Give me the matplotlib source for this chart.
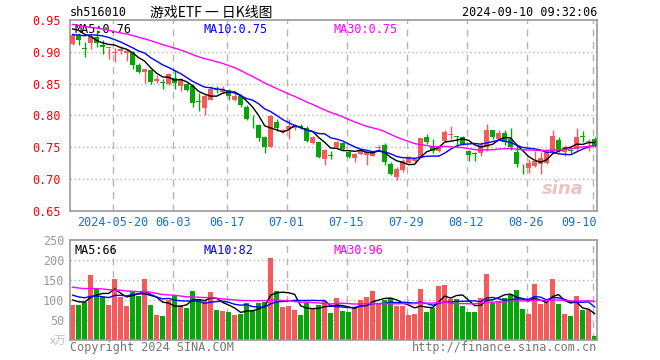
import numpy as np
import pandas as pd
import matplotlib
matplotlib.use("Agg")
import matplotlib.pyplot as plt

# trading days 2024-05-09 .. 2024-09-10 (06-10 holiday)
dates = [d for d in pd.bdate_range("2024-05-09", "2024-09-10") if d.strftime("%m-%d") != "06-10"]
date_str = [d.strftime("%Y-%m-%d") for d in dates]

opens = [0.913, 0.927, 0.906, 0.914, 0.924, 0.911, 0.906, 0.898, 0.902, 0.898,
         0.900, 0.879, 0.869, 0.871, 0.854, 0.852, 0.850, 0.859, 0.847, 0.850,
         0.846, 0.822, 0.811, 0.825, 0.841, 0.837, 0.840, 0.825, 0.830, 0.814,
         0.795, 0.785, 0.766, 0.750, 0.790, 0.7745, 0.7795, 0.7796, 0.783, 0.781,
         0.757, 0.758, 0.732, 0.7375, 0.750, 0.757, 0.743, 0.733, 0.7396, 0.7385,
         0.737, 0.7484, 0.7536, 0.724, 0.703, 0.714, 0.726, 0.728, 0.734, 0.766,
         0.751, 0.744, 0.760, 0.770, 0.767, 0.766, 0.744, 0.740, 0.741, 0.750,
         0.777, 0.763, 0.773, 0.763, 0.743, 0.721, 0.718, 0.720, 0.724, 0.725,
         0.742, 0.762, 0.743, 0.7445, 0.747, 0.767, 0.758, 0.763]
closes = [0.927, 0.918, 0.905, 0.925, 0.914, 0.908, 0.9065, 0.900, 0.905, 0.901,
          0.880, 0.868, 0.873, 0.853, 0.858, 0.851, 0.865, 0.851, 0.858, 0.840,
          0.819, 0.821, 0.830, 0.842, 0.840, 0.842, 0.830, 0.831, 0.816, 0.795,
          0.794, 0.764, 0.750, 0.799, 0.780, 0.777, 0.7828, 0.7838, 0.7825, 0.7604,
          0.7656, 0.7354, 0.7458, 0.737, 0.7588, 0.7474, 0.7354, 0.7396, 0.7458, 0.7432,
          0.7422, 0.751, 0.7275, 0.708, 0.716, 0.729, 0.733, 0.731, 0.764, 0.758,
          0.745, 0.750, 0.774, 0.771, 0.7665, 0.755, 0.738, 0.7395, 0.753, 0.777,
          0.766, 0.773, 0.758, 0.750, 0.724, 0.720, 0.726, 0.729, 0.734, 0.743,
          0.768, 0.745, 0.751, 0.744, 0.767, 0.766, 0.759, 0.752]
highs = [0.930, 0.930, 0.915, 0.927, 0.935, 0.918, 0.906, 0.906, 0.909, 0.904,
         0.901, 0.882, 0.873, 0.872, 0.863, 0.857, 0.867, 0.872, 0.859, 0.851,
         0.849, 0.835, 0.833, 0.847, 0.846, 0.846, 0.841, 0.833, 0.832, 0.816,
         0.800, 0.786, 0.768, 0.800, 0.794, 0.779, 0.794, 0.786, 0.786, 0.783,
         0.768, 0.760, 0.747, 0.745, 0.760, 0.758, 0.745, 0.741, 0.748, 0.745,
         0.744, 0.753, 0.757, 0.727, 0.719, 0.732, 0.736, 0.733, 0.765, 0.771,
         0.763, 0.754, 0.778, 0.783, 0.768, 0.768, 0.746, 0.742, 0.758, 0.787,
         0.777, 0.777, 0.778, 0.781, 0.754, 0.724, 0.732, 0.745, 0.742, 0.747,
         0.777, 0.766, 0.753, 0.747, 0.780, 0.775, 0.763, 0.766]
lows = [0.911, 0.911, 0.892, 0.905, 0.907, 0.897, 0.888, 0.884, 0.897, 0.886,
        0.873, 0.866, 0.851, 0.850, 0.851, 0.842, 0.848, 0.841, 0.839, 0.839,
        0.813, 0.807, 0.800, 0.824, 0.835, 0.835, 0.824, 0.823, 0.814, 0.793,
        0.781, 0.760, 0.741, 0.750, 0.776, 0.772, 0.763, 0.778, 0.7786, 0.758,
        0.755, 0.733, 0.722, 0.731, 0.748, 0.746, 0.734, 0.727, 0.738, 0.722,
        0.736, 0.746, 0.723, 0.707, 0.698, 0.712, 0.725, 0.726, 0.733, 0.756,
        0.741, 0.742, 0.758, 0.763, 0.751, 0.753, 0.729, 0.728, 0.736, 0.745,
        0.763, 0.761, 0.753, 0.746, 0.719, 0.708, 0.710, 0.719, 0.708, 0.724,
        0.742, 0.742, 0.737, 0.741, 0.745, 0.759, 0.745, 0.750]
volumes = [87.5, 87.5, 95, 162.5, 130, 107, 87.5, 152.5, 107, 85,
           122.5, 110, 152.5, 87.5, 62.5, 60, 100, 112.5, 87.5, 80,
           122.5, 102.5, 100, 120, 75, 72.5, 70, 62.5, 65, 92.5,
           75, 92.5, 95, 205, 122.5, 83, 85, 75, 62.5, 92.5,
           77.5, 87.5, 97.5, 67.5, 106, 72.5, 70, 79, 100, 107.5,
           122.5, 90, 100, 104, 85, 85, 62.5, 65, 127.5, 70,
           79, 135, 137.5, 102.5, 102.5, 85, 70, 70, 105, 165,
           92.5, 97.5, 105, 114, 125, 77.5, 65, 140, 90, 96,
           152, 90, 65, 60, 110, 75, 75, 10]

# sessions before the window, estimated so the moving averages start as shown
prior_closes = [0.96, 0.965, 0.958, 0.95, 0.955, 0.962, 0.97, 0.96, 0.952, 0.948,
                0.955, 0.945, 0.94, 0.948, 0.95, 0.943, 0.938, 0.945, 0.94, 0.936,
                0.925, 0.915, 0.91, 0.92, 0.92, 0.93, 0.935, 0.942, 0.946]
prior_volumes = [150, 135, 160, 140, 128, 145, 170, 130, 138, 150,
                 142, 125, 155, 148, 135, 140, 132, 150, 137, 130,
                 130, 118, 125, 122, 125, 110, 98, 104, 100.5]

tick_dates = ["2024-05-20", "2024-06-03", "2024-06-17", "2024-07-01", "2024-07-15",
              "2024-07-29", "2024-08-12", "2024-08-26", "2024-09-10"]
tick_labels = ["2024-05-20", "06-03", "06-17", "07-01", "07-15", "07-29", "08-12", "08-26", "09-10"]

RED = "#f55a5a"
GREEN = "#08a508"
GRID = "#b4b4b4"
MONO = "DejaVu Sans Mono"

o = np.array(opens)
c = np.array(closes)
h = np.array(highs)
l = np.array(lows)
v = np.array(volumes)
x = np.arange(len(c))
up = c >= o
colors = np.where(up, RED, GREEN)

n_prior = len(prior_closes)
all_c = pd.Series(prior_closes + closes)
all_v = pd.Series(prior_volumes + volumes)
ma = {w: all_c.rolling(w, min_periods=1).mean().values[n_prior:] for w in (5, 10, 30)}
vma = {w: all_v.rolling(w, min_periods=1).mean().values[n_prior:] for w in (5, 10, 30)}

W, H = 660, 360
fig = plt.figure(figsize=(6.6, 3.6), dpi=100)
fig.patch.set_facecolor("white")


def px_axes(x0, y0, x1, y1):
    return fig.add_axes([x0 / W, 1 - y1 / H, (x1 - x0) / W, (y1 - y0) / H])


ax = px_axes(70, 20, 597, 211)
axv = px_axes(70, 240, 597, 340)

tick_pos = [date_str.index(d) for d in tick_dates]
xlim = (-0.45, 87.4)

for a in (ax, axv):
    a.set_xlim(*xlim)
    for s in a.spines.values():
        s.set_color("#999999")
        s.set_linewidth(1.2)
    a.tick_params(length=0)
    for p in tick_pos:
        a.axvline(p - 0.35, color=GRID, lw=1, dashes=(5, 4), zorder=0)

# price panel
ax.set_ylim(0.65, 0.95)
for yv in [0.70, 0.75, 0.80, 0.85, 0.90]:
    ax.axhline(yv, color=GRID, lw=1, dashes=(1, 2), zorder=0)
ax.vlines(x, l, h, colors=colors, lw=1, zorder=2)
body = np.maximum(np.abs(c - o), 0.0012)
ax.bar(x, body, bottom=np.minimum(o, c), width=0.78, color=colors, zorder=3)
ax.plot(x, ma[5], color="black", lw=1, zorder=4)
ax.plot(x, ma[10], color="#0000ff", lw=1, zorder=4)
ax.plot(x, ma[30], color="#ff00ff", lw=1, zorder=4)
ax.set_yticks([0.65, 0.70, 0.75, 0.80, 0.85, 0.90, 0.95])
ax.set_yticklabels(["%.2f" % t for t in ax.get_yticks()], color="#ff0000",
                   fontsize=8.5, family=MONO)
ax.set_xticks([])
for p, lab in zip(tick_pos, tick_labels):
    last = p == tick_pos[-1]
    ax.text(xlim[1] if last else p - 0.35, -0.025, lab, transform=ax.get_xaxis_transform(),
            ha="right" if last else "center", va="top", color="#1a6fd0",
            fontsize=8.5, family=MONO)
ax.tick_params(axis="y", pad=7)
ax.text(0.008, 0.985, "MA5:%.2f" % ma[5][-1], transform=ax.transAxes, va="top",
        fontsize=8.5, family=MONO, color="black")
ax.text(0.253, 0.985, "MA10:%.2f" % ma[10][-1], transform=ax.transAxes, va="top",
        fontsize=8.5, family=MONO, color="#0000ff")
ax.text(0.5, 0.985, "MA30:%.2f" % ma[30][-1], transform=ax.transAxes, va="top",
        fontsize=8.5, family=MONO, color="#ff00ff")
ax.text(0.975, 0.07, "sina", transform=ax.transAxes, ha="right", va="bottom",
        fontsize=13, fontweight="bold", style="italic", color="#e8b4b4", alpha=0.8)

# volume panel
axv.set_ylim(0, 250)
for yv in [50, 100, 150, 200]:
    axv.axhline(yv, color=GRID, lw=1, dashes=(1, 2), zorder=0)
axv.bar(x, v, width=0.82, color=colors, zorder=2)
axv.plot(x, vma[5], color="black", lw=1, zorder=4)
axv.plot(x, vma[10], color="#0000ff", lw=1, zorder=4)
axv.plot(x, vma[30], color="#ff00ff", lw=1, zorder=4)
axv.set_xticks([])
axv.set_yticks([50, 100, 150, 200, 250])
axv.set_yticklabels(["50", "100", "150", "200", "250"], color="#999999",
                    fontsize=8.5, family=MONO)
axv.tick_params(axis="y", pad=4)
axv.text(0.008, 0.96, "MA5:%d" % round(vma[5][-1]), transform=axv.transAxes, va="top",
         fontsize=8.5, family=MONO, color="black")
axv.text(0.253, 0.96, "MA10:%d" % round(vma[10][-1]), transform=axv.transAxes, va="top",
         fontsize=8.5, family=MONO, color="#0000ff")
axv.text(0.5, 0.96, "MA30:%d" % round(vma[30][-1]), transform=axv.transAxes, va="top",
         fontsize=8.5, family=MONO, color="#ff00ff")


def ftext(px, py, s, **kw):
    fig.text(px / W, 1 - py / H, s, **kw)


ftext(70, 13, "sh516010", fontsize=8.5, family=MONO, va="center")
ftext(150, 13, "游戏ETF 一 日K线图", fontsize=10,
      family=["Noto Sans CJK SC", "DejaVu Sans"], va="center")
ftext(597, 13, date_str[-1] + " 09:32:06", fontsize=8.5, family=MONO,
      ha="right", va="center")
ftext(66, 341, "x万", fontsize=8, family=["Noto Sans CJK SC", "DejaVu Sans"],
      color="#bbbbbb", ha="right", va="center")
ftext(70, 347, "Copyright 2024 SINA.COM", fontsize=8.5, family=MONO,
      color="#777777", va="center")
ftext(597, 347, "http://finance.sina.com.cn", fontsize=8.5, family=MONO,
      color="#777777", ha="right", va="center")

fig.savefig("out.png", dpi=100)
